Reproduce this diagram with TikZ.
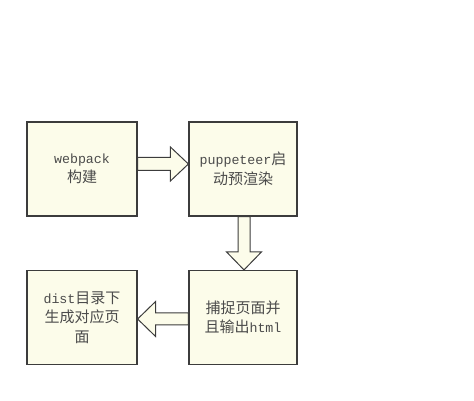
\documentclass[tikz,border=0pt]{standalone}
\usepackage{fontspec}
\setmainfont{Noto Sans CJK SC}
\newfontfamily\lat{Liberation Mono}
\usetikzlibrary{calc}
\definecolor{cream}{RGB}{252,252,234}
\definecolor{rim}{RGB}{60,60,60}
\definecolor{ink}{RGB}{75,75,75}
\newcommand{\en}[1]{{\lat\fontsize{13.3}{19.5}\selectfont #1}}
\tikzset{
  stap/.style = {rectangle, draw=rim, line width=1.2pt, fill=cream, minimum width=110pt, minimum height=94pt, align=center, text=ink, font=\fontsize{15}{19.5}\selectfont, inner sep=2pt},
  pijl/.style = {draw=rim, line width=1pt, fill=cream, line join=miter}
}

\begin{document}
\begin{tikzpicture}[x=1pt, y=1pt]
  \useasboundingbox (0,0) rectangle (474,401);

  % steps
  \node[stap] (build)   at (82, 232)   {\en{webpack}\\构建};
  \node[stap, minimum width=108pt] (launch)  at (243, 232)  {\en{puppeteer}启\\动预渲染};
  \node[stap, minimum width=108pt] (capture) at (243, 83.5) {捕捉页面并\\且输出\en{html}};
  \node[stap] (dist)    at (82, 83.5)  {\en{dist}目录下\\生成对应页\\面};

  % block arrows
  \draw[pijl] ($(build.east)+(0,11.5)$) -- ($(launch.west)+(-18,11.5)$) -- ($(launch.west)+(-18,22)$)
    -- ($(launch.west)+(0,5)$) -- ($(launch.west)+(-18,-12)$) -- ($(launch.west)+(-18,-1.5)$)
    -- ($(build.east)+(0,-1.5)$) -- cycle;
  \draw[pijl] ($(launch.south)+(-5,0)$) -- ($(capture.north)+(-5,18)$) -- ($(capture.north)+(-16.5,18)$)
    -- ($(capture.north)+(1,0)$) -- ($(capture.north)+(18.5,18)$) -- ($(capture.north)+(7,18)$)
    -- ($(launch.south)+(7,0)$) -- cycle;
  \draw[pijl] ($(capture.west)+(0,4.5)$) -- ($(dist.east)+(18,4.5)$) -- ($(dist.east)+(18,16)$)
    -- ($(dist.east)+(0,-1.5)$) -- ($(dist.east)+(18,-19)$) -- ($(dist.east)+(18,-7.5)$)
    -- ($(capture.west)+(0,-7.5)$) -- cycle;
\end{tikzpicture}
\end{document}
